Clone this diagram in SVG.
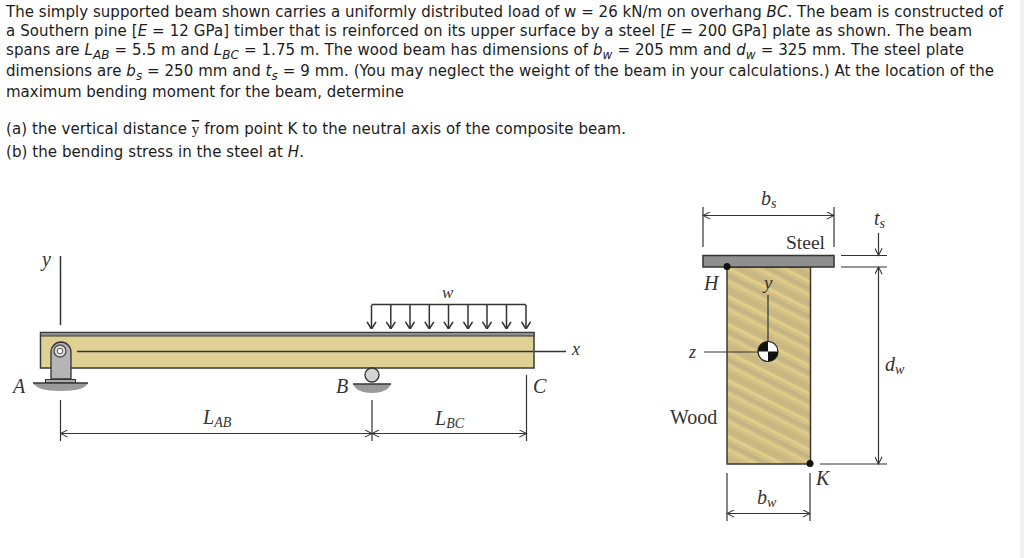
<svg xmlns="http://www.w3.org/2000/svg" width="1024" height="558" viewBox="0 0 1024 558">
<style>
.t{font-family:"DejaVu Sans","Liberation Sans",sans-serif;font-size:15px;fill:#1c1c1c}
.s{font-size:12px;font-style:italic}
.i{font-style:italic}
.l{font-family:"Liberation Serif",serif;font-size:20px;fill:#333;font-style:italic}
.r{font-family:"Liberation Serif",serif;font-size:19px;fill:#333}
.sb{font-size:14px}
.d{stroke:#333;stroke-width:1.2;fill:none}
.k{stroke:#333;stroke-width:1.5;fill:none}
</style>
<defs>
<marker id="a" viewBox="0 0 10 10" refX="10" refY="5" markerWidth="10" markerHeight="8" orient="auto-start-reverse" markerUnits="userSpaceOnUse"><path d="M1 0.5L10 5L1 9.5" fill="none" stroke="#333" stroke-width="1.300"/></marker>
<marker id="w" viewBox="0 0 10 12" refX="10" refY="6" markerWidth="9" markerHeight="10.800" orient="auto" markerUnits="userSpaceOnUse"><path d="M2 1L10 6L2 11" fill="none" stroke="#333" stroke-width="1.700"/></marker>
<pattern id="wood" width="30" height="25" patternUnits="userSpaceOnUse" patternTransform="rotate(27)">
<rect width="30" height="25" fill="#d3c084"/>
<rect y="0" width="30" height="6" fill="#c9b884"/>
<rect y="7" width="30" height="3" fill="#e0cd8a"/>
<rect y="13" width="30" height="4" fill="#c4b483"/>
<rect y="19" width="30" height="2.500" fill="#dfcc8a"/>
</pattern>
</defs>
<rect width="1024" height="558" fill="#fff"/>
<rect x="1020" y="0" width="4" height="558" fill="#f1f1f1"/>
<g id="problem-text">
<text class="t" x="6" y="17" textLength="997">The simply supported beam shown carries a uniformly distributed load of w = 26 kN/m on overhang <tspan class="i">BC</tspan>. The beam is constructed of</text>
<text class="t" x="6" y="36" textLength="966">a Southern pine [<tspan class="i">E</tspan> = 12 GPa] timber that is reinforced on its upper surface by a steel [<tspan class="i">E</tspan> = 200 GPa] plate as shown. The beam</text>
<text class="t" x="6" y="55" textLength="958">spans are <tspan class="i">L</tspan><tspan class="s" dy="4">AB</tspan><tspan dy="-4"> = 5.5 m and </tspan><tspan class="i">L</tspan><tspan class="s" dy="4">BC</tspan><tspan dy="-4"> = 1.75 m. The wood beam has dimensions of </tspan><tspan class="i">b</tspan><tspan class="s" dy="4">w</tspan><tspan dy="-4"> = 205 mm and </tspan><tspan class="i">d</tspan><tspan class="s" dy="4">w</tspan><tspan dy="-4"> = 325 mm. The steel plate</tspan></text>
<text class="t" x="6" y="76" textLength="988">dimensions are <tspan class="i">b</tspan><tspan class="s" dy="4">s</tspan><tspan dy="-4"> = 250 mm and </tspan><tspan class="i">t</tspan><tspan class="s" dy="4">s</tspan><tspan dy="-4"> = 9 mm. (You may neglect the weight of the beam in your calculations.) At the location of the</tspan></text>
<text class="t" x="6" y="97">maximum bending moment for the beam, determine</text>
<text class="t" x="6" y="134" textLength="620">(a) the vertical distance <tspan style="font-family:'Liberation Serif',serif;text-decoration:overline">y</tspan> from point K to the neutral axis of the composite beam.</text>
<text class="t" x="6" y="157" textLength="298">(b) the bending stress in the steel at <tspan class="i">H</tspan>.</text>
</g>
<g id="beam">
<rect x="40.500" y="332.500" width="493.500" height="35.500" fill="#dfd094" stroke="#3a3a36" stroke-width="1.500"/>
<rect x="40.500" y="332.500" width="493.500" height="3.500" fill="#8f8f8f" stroke="#3a3a36" stroke-width="1"/>
</g>
<g id="support-A">
<path d="M51 379V352a10 10 0 0 1 20 0V379Z" fill="#b5b5b5" stroke="#333" stroke-width="1.300"/>
<circle cx="60" cy="351" r="6" fill="#ddd" stroke="#555" stroke-width="1.500"/>
<circle cx="60" cy="351" r="2.800" fill="#fff" stroke="#555"/>
<rect x="45.500" y="379.500" width="30" height="3.500" fill="#aaa" stroke="#333"/>
<path d="M33 383H88C86 388 78 391 60 391C44 391 36 388 33 383Z" fill="#9a9a9a"/>
<path d="M33 383H88" stroke="#333" stroke-width="1.500"/>
<text class="l" x="13" y="393">A</text>
</g>
<g id="support-B">
<circle cx="372" cy="375" r="7" fill="#d4d4d4" stroke="#333" stroke-width="1.300"/>
<path d="M353 384H391C389 390 381 393 372 393C363 393 355 390 353 384Z" fill="#9a9a9a"/>
<path d="M353 384H391" stroke="#333" stroke-width="1.500"/>
<text class="l" x="336" y="393">B</text>
</g>
<g id="cross-section">
<rect x="727" y="267" width="83.500" height="197" fill="url(#wood)" stroke="#3a3a30" stroke-width="1.500"/>
<rect x="703" y="255.500" width="131" height="11.500" fill="#8f8f8f" stroke="#333" stroke-width="1.500"/>
<circle cx="727" cy="266.500" r="3.500" fill="#111"/>
<circle cx="810" cy="463.500" r="3.500" fill="#111"/>
<path d="M768 295V351" stroke="#333" stroke-width="1.200"/>
<path d="M704 352H758" stroke="#333" stroke-width="1.200"/>
<circle cx="768" cy="351.500" r="10" fill="#fff" stroke="#222" stroke-width="1.200"/>
<path d="M768 351.500V341.500A10 10 0 0 0 758 351.500ZM768 351.500V361.500A10 10 0 0 0 778 351.500Z" fill="#111"/>
</g>
<g id="connectors">
<path class="k" d="M60.500 256V325"/>
<path class="k" d="M77 351.500H533"/>
<path class="k" d="M534 351.500H566"/>
<path class="d" d="M60.500 400V441"/>
<path class="d" d="M372 400V441"/>
<path class="d" d="M526.500 375V441"/>
<path class="d" marker-start="url(#a)" marker-end="url(#a)" d="M60.500 433.500H372"/>
<path class="d" marker-start="url(#a)" marker-end="url(#a)" d="M372 433.500H526.500"/>
<path class="k" d="M371.500 304.500H526"/>
<g class="k">
<path marker-end="url(#w)" d="M371.500 305V329"/>
<path marker-end="url(#w)" d="M390.800 305V329"/>
<path marker-end="url(#w)" d="M410 305V329"/>
<path marker-end="url(#w)" d="M429.300 305V329"/>
<path marker-end="url(#w)" d="M448.500 305V329"/>
<path marker-end="url(#w)" d="M468 305V329"/>
<path marker-end="url(#w)" d="M487 305V329"/>
<path marker-end="url(#w)" d="M506.500 305V329"/>
<path marker-end="url(#w)" d="M526 305V329"/>
</g>
<path class="d" d="M703 207V247"/>
<path class="d" d="M834 207V247"/>
<path class="d" marker-start="url(#a)" marker-end="url(#a)" d="M703 215.500H834"/>
<path class="d" d="M841 255.500H887"/>
<path class="d" d="M841 267H887"/>
<path class="d" marker-end="url(#a)" d="M878.500 233V255.500"/>
<path class="d" marker-start="url(#a)" marker-end="url(#a)" d="M878.500 267V464"/>
<path class="d" d="M820 464H887"/>
<path class="d" d="M727 473V521"/>
<path class="d" d="M810 473V521"/>
<path class="d" marker-start="url(#a)" marker-end="url(#a)" d="M727 513.500H810"/>
</g>
<g id="labels">
<text class="l" x="42" y="266">y</text>
<text class="l" x="442" y="298" style="font-size:17px">w</text>
<text class="l" x="572" y="355" style="font-size:18px">x</text>
<text class="l" x="533" y="393">C</text>
<text class="l" x="203" y="424">L<tspan class="sb" dy="3">AB</tspan></text>
<text class="l" x="435" y="425">L<tspan class="sb" dy="3">BC</tspan></text>
<text class="l" x="761" y="205">b<tspan class="sb" dy="3">s</tspan></text>
<text class="l" x="874" y="225">t<tspan class="sb" dy="3">s</tspan></text>
<text class="r" x="786" y="249" style="font-size:19.500px">Steel</text>
<text class="l" x="704" y="290">H</text>
<text class="l" x="764" y="289" style="font-size:19px">y</text>
<text class="l" x="689" y="358" style="font-size:18px">z</text>
<text class="l" x="885" y="371">d<tspan class="sb" dy="3">w</tspan></text>
<text class="r" x="670" y="424" style="font-size:20px">Wood</text>
<text class="l" x="816" y="485">K</text>
<text class="l" x="757" y="504">b<tspan class="sb" dy="3">w</tspan></text>
</g>
</svg>
